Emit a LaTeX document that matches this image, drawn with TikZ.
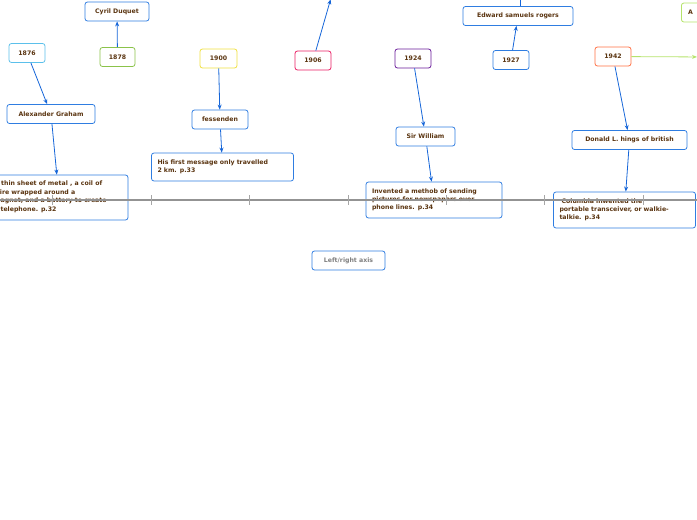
\documentclass[tikz,border=0pt]{standalone}
\usepackage{fontspec}
\setmainfont{DejaVu Sans}
\usetikzlibrary{arrows.meta}
\definecolor{txt}{HTML}{5A3410}
\definecolor{bl}{HTML}{2F7DE1}
\definecolor{ln}{HTML}{1565D8}
\definecolor{c76}{HTML}{5BC0EB}
\definecolor{c78}{HTML}{8BC34A}
\definecolor{c00}{HTML}{F0E040}
\definecolor{c06}{HTML}{E91E63}
\definecolor{c24}{HTML}{6A1B9A}
\definecolor{c42}{HTML}{FF7043}
\definecolor{lg}{HTML}{B5E36B}
\tikzset{
 box/.style={draw=#1,line width=0.8pt,rounded corners=2.5pt,fill=white,text=txt,font=\bfseries\fontsize{6.2}{7}\selectfont,inner sep=0pt,minimum height=19pt},
 box/.default=bl,
 para/.style={box,align=left,text width=#1,inner xsep=6pt,inner ysep=4pt},
 con/.style={ln,line width=0.8pt,-{Stealth[length=5pt,width=4pt]}},
}
\begin{document}
\begin{tikzpicture}[x=1pt,y=-1pt]
\useasboundingbox (0,0) rectangle (697,520);
\node[box,minimum width=64pt] (cyril) at (117,11.5) {Cyril Duquet};
\node[box=c76,minimum width=36pt] (y1876) at (27,53) {1876};
\node[box=c78,minimum width=35pt] (y1878) at (117.5,57) {1878};
\node[box,minimum width=88pt] (alex) at (51,114) {Alexander Graham};
\node[box,minimum width=138pt,minimum height=45pt] (tel) at (59,197.5) {};
\node[text=txt,font=\bfseries\fontsize{6.2}{8.5}\selectfont,align=left,anchor=north west,inner sep=0pt] at (-6,181) {A thin sheet of metal , a coil of\\ wire wrapped around a\\ magnet, and a battery to create\\ a telephone. p.32};
\node[box=c00,minimum width=37pt] (y1900) at (218.5,58.5) {1900};
\node[box,minimum width=56pt] (fess) at (220,119.5) {fessenden};
\node[para=130pt,minimum width=141pt,minimum height=28pt,font=\bfseries\fontsize{6.2}{8}\selectfont] (msg) at (222.5,167) {His first message only travelled\\2 km. p.33};
\node[box=c06,minimum width=36pt] (y1906) at (313,60.5) {1906};
\node[box,minimum width=52pt,minimum height=16pt] (top) at (333,-9) {};
\node[box=c24,minimum width=36pt] (y1924) at (413,58.5) {1924};
\node[box,minimum width=59pt] (will) at (425.5,136.5) {Sir William};
\node[para=124pt,minimum width=134pt,minimum height=36pt,font=\bfseries\fontsize{6.2}{8}\selectfont] (meth) at (434,200) {Invented a methob of sending\\pictures for newspapers over\\phone lines. p.34};
\node[box,minimum width=36pt] (y1927) at (511,60) {1927};
\node[box,minimum width=110pt] (ed) at (518,16) {Edward samuels rogers};
\coordinate (edtop) at (520,0);
\node[box=c42,minimum width=36pt] (y1942) at (613,56.5) {1942};
\node[box=lg,minimum width=30pt,anchor=west] (anode) at (681,12.5) {\hspace*{-6pt}A\hspace*{6pt}};
\node[box=lg,minimum width=20pt,anchor=west] (rnode) at (697,57) {};
\node[box,minimum width=115pt] (don) at (629.5,140) {Donald L. hings of british};
\node[para=130pt,minimum width=141pt,minimum height=36pt,font=\bfseries\fontsize{6.2}{8}\selectfont] (col) at (624.5,210) {\ Columbia inwented the\\portable transceiver, or walkie-\\talkie. p.34};
\node[box,minimum width=73pt,text=gray] (axis) at (348.5,260.5) {Left/right axis};
\draw[con] (y1876) -- (alex);
\draw[con] (alex) -- (tel);
\draw[con] (y1878) -- (cyril);
\draw[con] (y1900) -- (fess);
\draw[con] (fess) -- (msg);
\draw[con] (y1906) -- (top);
\draw[con] (y1924) -- (will);
\draw[con] (will) -- (meth);
\draw[con] (y1927) -- (ed);
\draw[ln,line width=0.8pt] (ed.north -| edtop) -- (edtop);
\draw[con] (y1942) -- (don);
\draw[con] (don) -- (col);
\draw[con,lg] (y1942) -- (rnode);
\draw[gray!85,line width=1.2pt] (0,200) -- (697,200);
\foreach \x in {52,151,249,348,446,544,643} \draw[gray!70,line width=0.8pt] (\x,195) -- (\x,205);
\end{tikzpicture}
\end{document}
